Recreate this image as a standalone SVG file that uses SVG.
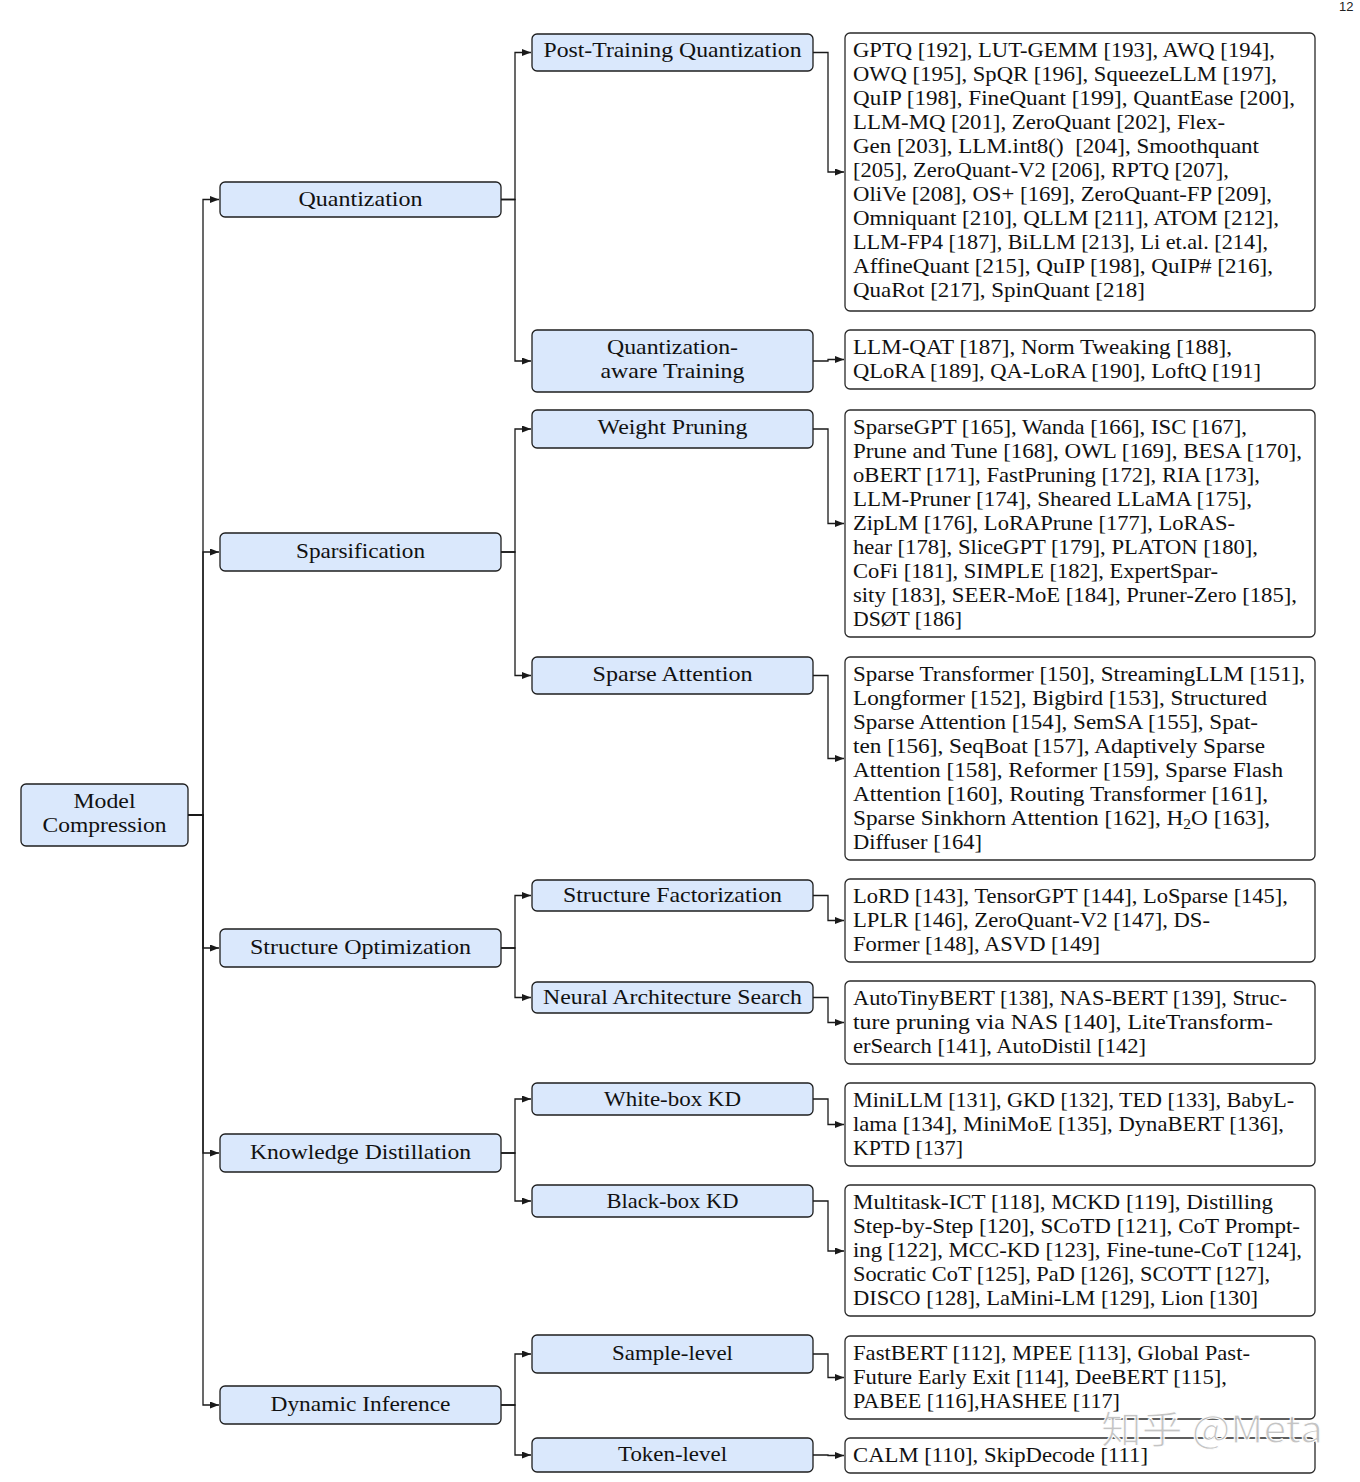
<svg xmlns="http://www.w3.org/2000/svg" width="1360" height="1482" viewBox="0 0 1360 1482">
<style>
.bx{fill:#dae8fc;stroke:#1e1e1e;stroke-width:1.3}
.lf{fill:#ffffff;stroke:#2a2a2a;stroke-width:1.3}
.lb{font-family:"Liberation Serif","DejaVu Serif",serif;font-size:21px;fill:#111;text-anchor:middle}
.tx{font-family:"Liberation Serif","DejaVu Serif",serif;font-size:21px;fill:#111}
.cn{fill:none;stroke:#1a1a1a;stroke-width:1.3;marker-end:url(#ah)}
</style>
<defs>
<marker id="ah" markerUnits="userSpaceOnUse" markerWidth="9" markerHeight="7" refX="9" refY="3.5" orient="auto">
<path d="M0,0 L9,3.5 L0,7 z" fill="#1a1a1a"/>
</marker>
</defs>
<rect width="1360" height="1482" fill="#ffffff"/>
<text x="1339" y="11" font-family="Liberation Sans,sans-serif" font-size="13" fill="#222">12</text>

<g id="connectors">
<path class="cn" d="M188,815 H203 V199.5 H219"/>
<path class="cn" d="M188,815 H203 V552 H219"/>
<path class="cn" d="M188,815 H203 V948 H219"/>
<path class="cn" d="M188,815 H203 V1153 H219"/>
<path class="cn" d="M188,815 H203 V1405 H219"/>
<path class="cn" d="M501,199.5 H515 V52.5 H531"/>
<path class="cn" d="M501,199.5 H515 V361 H531"/>
<path class="cn" d="M501,552 H515 V429 H531"/>
<path class="cn" d="M501,552 H515 V675.5 H531"/>
<path class="cn" d="M501,948 H515 V895.5 H531"/>
<path class="cn" d="M501,948 H515 V997.5 H531"/>
<path class="cn" d="M501,1153 H515 V1099 H531"/>
<path class="cn" d="M501,1153 H515 V1201 H531"/>
<path class="cn" d="M501,1405 H515 V1354 H531"/>
<path class="cn" d="M501,1405 H515 V1455 H531"/>
<path class="cn" d="M813,52.5 H828 V172 H844"/>
<path class="cn" d="M813,361 H828 V359.5 H844"/>
<path class="cn" d="M813,429 H828 V523.5 H844"/>
<path class="cn" d="M813,675.5 H828 V758.5 H844"/>
<path class="cn" d="M813,895.5 H828 V920.5 H844"/>
<path class="cn" d="M813,997.5 H828 V1022.5 H844"/>
<path class="cn" d="M813,1099 H828 V1124.5 H844"/>
<path class="cn" d="M813,1201 H828 V1251 H844"/>
<path class="cn" d="M813,1354 H828 V1377.5 H844"/>
<path class="cn" d="M813,1455 H828 V1455.5 H844"/>
</g>

<g id="root">
<rect class="bx" x="21" y="784" width="167" height="62" rx="5"/>
<text class="lb" x="104.5" y="808" textLength="62" lengthAdjust="spacingAndGlyphs">Model</text>
<text class="lb" x="104.5" y="832" textLength="124" lengthAdjust="spacingAndGlyphs">Compression</text>
</g>

<g id="quantization">
<rect class="bx" x="220" y="182" width="281" height="35" rx="5"/>
<text class="lb" x="360.5" y="206" textLength="124" lengthAdjust="spacingAndGlyphs">Quantization</text>
</g>
<g id="sparsification">
<rect class="bx" x="220" y="533" width="281" height="38" rx="5"/>
<text class="lb" x="360.5" y="558" textLength="129" lengthAdjust="spacingAndGlyphs">Sparsification</text>
</g>
<g id="structure-optimization">
<rect class="bx" x="220" y="929" width="281" height="38" rx="5"/>
<text class="lb" x="360.5" y="954" textLength="221" lengthAdjust="spacingAndGlyphs">Structure Optimization</text>
</g>
<g id="knowledge-distillation">
<rect class="bx" x="220" y="1134" width="281" height="38" rx="5"/>
<text class="lb" x="360.5" y="1159" textLength="221" lengthAdjust="spacingAndGlyphs">Knowledge Distillation</text>
</g>
<g id="dynamic-inference">
<rect class="bx" x="220" y="1386" width="281" height="38" rx="5"/>
<text class="lb" x="360.5" y="1411" textLength="180" lengthAdjust="spacingAndGlyphs">Dynamic Inference</text>
</g>

<g id="ptq">
<rect class="bx" x="532" y="34" width="281" height="37" rx="5"/>
<text class="lb" x="672.5" y="57" textLength="258" lengthAdjust="spacingAndGlyphs">Post-Training Quantization</text>
</g>
<g id="qat">
<rect class="bx" x="532" y="330" width="281" height="62" rx="5"/>
<text class="lb" x="672.5" y="354" textLength="131" lengthAdjust="spacingAndGlyphs">Quantization-</text>
<text class="lb" x="672.5" y="378" textLength="144" lengthAdjust="spacingAndGlyphs">aware Training</text>
</g>
<g id="weight-pruning">
<rect class="bx" x="532" y="410" width="281" height="38" rx="5"/>
<text class="lb" x="672.5" y="434" textLength="150" lengthAdjust="spacingAndGlyphs">Weight Pruning</text>
</g>
<g id="sparse-attention">
<rect class="bx" x="532" y="657" width="281" height="37" rx="5"/>
<text class="lb" x="672.5" y="681" textLength="160" lengthAdjust="spacingAndGlyphs">Sparse Attention</text>
</g>
<g id="structure-factorization">
<rect class="bx" x="532" y="880" width="281" height="31" rx="5"/>
<text class="lb" x="672.5" y="902" textLength="219" lengthAdjust="spacingAndGlyphs">Structure Factorization</text>
</g>
<g id="nas">
<rect class="bx" x="532" y="982" width="281" height="31" rx="5"/>
<text class="lb" x="672.5" y="1004" textLength="259" lengthAdjust="spacingAndGlyphs">Neural Architecture Search</text>
</g>
<g id="white-box-kd">
<rect class="bx" x="532" y="1083" width="281" height="32" rx="5"/>
<text class="lb" x="672.5" y="1106" textLength="137" lengthAdjust="spacingAndGlyphs">White-box KD</text>
</g>
<g id="black-box-kd">
<rect class="bx" x="532" y="1185" width="281" height="32" rx="5"/>
<text class="lb" x="672.5" y="1208" textLength="132" lengthAdjust="spacingAndGlyphs">Black-box KD</text>
</g>
<g id="sample-level">
<rect class="bx" x="532" y="1335" width="281" height="38" rx="5"/>
<text class="lb" x="672.5" y="1360" textLength="121" lengthAdjust="spacingAndGlyphs">Sample-level</text>
</g>
<g id="token-level">
<rect class="bx" x="532" y="1438" width="281" height="34" rx="5"/>
<text class="lb" x="672.5" y="1461" textLength="109" lengthAdjust="spacingAndGlyphs">Token-level</text>
</g>

<g id="leaf-ptq">
<rect class="lf" x="845" y="33" width="470" height="278" rx="5"/>
<text class="tx" x="853" y="57" textLength="422" lengthAdjust="spacingAndGlyphs">GPTQ [192], LUT-GEMM [193], AWQ [194],</text>
<text class="tx" x="853" y="81" textLength="424" lengthAdjust="spacingAndGlyphs">OWQ [195], SpQR [196], SqueezeLLM [197],</text>
<text class="tx" x="853" y="105" textLength="442" lengthAdjust="spacingAndGlyphs">QuIP [198], FineQuant [199], QuantEase [200],</text>
<text class="tx" x="853" y="129" textLength="372" lengthAdjust="spacingAndGlyphs">LLM-MQ [201], ZeroQuant [202], Flex-</text>
<text class="tx" x="853" y="153" textLength="406" lengthAdjust="spacingAndGlyphs">Gen [203], LLM.int8()&#160; [204], Smoothquant</text>
<text class="tx" x="853" y="177" textLength="376" lengthAdjust="spacingAndGlyphs">[205], ZeroQuant-V2 [206], RPTQ [207],</text>
<text class="tx" x="853" y="201" textLength="419" lengthAdjust="spacingAndGlyphs">OliVe [208], OS+ [169], ZeroQuant-FP [209],</text>
<text class="tx" x="853" y="225" textLength="426" lengthAdjust="spacingAndGlyphs">Omniquant [210], QLLM [211], ATOM [212],</text>
<text class="tx" x="853" y="249" textLength="415" lengthAdjust="spacingAndGlyphs">LLM-FP4 [187], BiLLM [213], Li et.al. [214],</text>
<text class="tx" x="853" y="273" textLength="420" lengthAdjust="spacingAndGlyphs">AffineQuant [215], QuIP [198], QuIP# [216],</text>
<text class="tx" x="853" y="297" textLength="292" lengthAdjust="spacingAndGlyphs">QuaRot [217], SpinQuant [218]</text>
</g>
<g id="leaf-qat">
<rect class="lf" x="845" y="330" width="470" height="59" rx="5"/>
<text class="tx" x="853" y="354" textLength="379" lengthAdjust="spacingAndGlyphs">LLM-QAT [187], Norm Tweaking [188],</text>
<text class="tx" x="853" y="378" textLength="408" lengthAdjust="spacingAndGlyphs">QLoRA [189], QA-LoRA [190], LoftQ [191]</text>
</g>
<g id="leaf-weight-pruning">
<rect class="lf" x="845" y="410" width="470" height="227" rx="5"/>
<text class="tx" x="853" y="434" textLength="394" lengthAdjust="spacingAndGlyphs">SparseGPT [165], Wanda [166], ISC [167],</text>
<text class="tx" x="853" y="458" textLength="449" lengthAdjust="spacingAndGlyphs">Prune and Tune [168], OWL [169], BESA [170],</text>
<text class="tx" x="853" y="482" textLength="407" lengthAdjust="spacingAndGlyphs">oBERT [171], FastPruning [172], RIA [173],</text>
<text class="tx" x="853" y="506" textLength="399" lengthAdjust="spacingAndGlyphs">LLM-Pruner [174], Sheared LLaMA [175],</text>
<text class="tx" x="853" y="530" textLength="382" lengthAdjust="spacingAndGlyphs">ZipLM [176], LoRAPrune [177], LoRAS-</text>
<text class="tx" x="853" y="554" textLength="405" lengthAdjust="spacingAndGlyphs">hear [178], SliceGPT [179], PLATON [180],</text>
<text class="tx" x="853" y="578" textLength="365" lengthAdjust="spacingAndGlyphs">CoFi [181], SIMPLE [182], ExpertSpar-</text>
<text class="tx" x="853" y="602" textLength="444" lengthAdjust="spacingAndGlyphs">sity [183], SEER-MoE [184], Pruner-Zero [185],</text>
<text class="tx" x="853" y="626" textLength="109" lengthAdjust="spacingAndGlyphs">DSØT [186]</text>
</g>
<g id="leaf-sparse-attention">
<rect class="lf" x="845" y="657" width="470" height="203" rx="5"/>
<text class="tx" x="853" y="681" textLength="452" lengthAdjust="spacingAndGlyphs">Sparse Transformer [150], StreamingLLM [151],</text>
<text class="tx" x="853" y="705" textLength="414" lengthAdjust="spacingAndGlyphs">Longformer [152], Bigbird [153], Structured</text>
<text class="tx" x="853" y="729" textLength="405" lengthAdjust="spacingAndGlyphs">Sparse Attention [154], SemSA [155], Spat-</text>
<text class="tx" x="853" y="753" textLength="412" lengthAdjust="spacingAndGlyphs">ten [156], SeqBoat [157], Adaptively Sparse</text>
<text class="tx" x="853" y="777" textLength="430" lengthAdjust="spacingAndGlyphs">Attention [158], Reformer [159], Sparse Flash</text>
<text class="tx" x="853" y="801" textLength="415" lengthAdjust="spacingAndGlyphs">Attention [160], Routing Transformer [161],</text>
<text class="tx" x="853" y="825" textLength="417" lengthAdjust="spacingAndGlyphs">Sparse Sinkhorn Attention [162], H<tspan font-size="14" dy="4">2</tspan><tspan dy="-4">O [163],</tspan></text>
<text class="tx" x="853" y="849" textLength="129" lengthAdjust="spacingAndGlyphs">Diffuser [164]</text>
</g>
<g id="leaf-structure-factorization">
<rect class="lf" x="845" y="879" width="470" height="83" rx="5"/>
<text class="tx" x="853" y="903" textLength="435" lengthAdjust="spacingAndGlyphs">LoRD [143], TensorGPT [144], LoSparse [145],</text>
<text class="tx" x="853" y="927" textLength="357" lengthAdjust="spacingAndGlyphs">LPLR [146], ZeroQuant-V2 [147], DS-</text>
<text class="tx" x="853" y="951" textLength="247" lengthAdjust="spacingAndGlyphs">Former [148], ASVD [149]</text>
</g>
<g id="leaf-nas">
<rect class="lf" x="845" y="981" width="470" height="83" rx="5"/>
<text class="tx" x="853" y="1005" textLength="434" lengthAdjust="spacingAndGlyphs">AutoTinyBERT [138], NAS-BERT [139], Struc-</text>
<text class="tx" x="853" y="1029" textLength="420" lengthAdjust="spacingAndGlyphs">ture pruning via NAS [140], LiteTransform-</text>
<text class="tx" x="853" y="1053" textLength="293" lengthAdjust="spacingAndGlyphs">erSearch [141], AutoDistil [142]</text>
</g>
<g id="leaf-white-box-kd">
<rect class="lf" x="845" y="1083" width="470" height="83" rx="5"/>
<text class="tx" x="853" y="1107" textLength="441" lengthAdjust="spacingAndGlyphs">MiniLLM [131], GKD [132], TED [133], BabyL-</text>
<text class="tx" x="853" y="1131" textLength="431" lengthAdjust="spacingAndGlyphs">lama [134], MiniMoE [135], DynaBERT [136],</text>
<text class="tx" x="853" y="1155" textLength="110" lengthAdjust="spacingAndGlyphs">KPTD [137]</text>
</g>
<g id="leaf-black-box-kd">
<rect class="lf" x="845" y="1185" width="470" height="131" rx="5"/>
<text class="tx" x="853" y="1209" textLength="420" lengthAdjust="spacingAndGlyphs">Multitask-ICT [118], MCKD [119], Distilling</text>
<text class="tx" x="853" y="1233" textLength="447" lengthAdjust="spacingAndGlyphs">Step-by-Step [120], SCoTD [121], CoT Prompt-</text>
<text class="tx" x="853" y="1257" textLength="449" lengthAdjust="spacingAndGlyphs">ing [122], MCC-KD [123], Fine-tune-CoT [124],</text>
<text class="tx" x="853" y="1281" textLength="417" lengthAdjust="spacingAndGlyphs">Socratic CoT [125], PaD [126], SCOTT [127],</text>
<text class="tx" x="853" y="1305" textLength="405" lengthAdjust="spacingAndGlyphs">DISCO [128], LaMini-LM [129], Lion [130]</text>
</g>
<g id="leaf-sample-level">
<rect class="lf" x="845" y="1336" width="470" height="83" rx="5"/>
<text class="tx" x="853" y="1360" textLength="397" lengthAdjust="spacingAndGlyphs">FastBERT [112], MPEE [113], Global Past-</text>
<text class="tx" x="853" y="1384" textLength="374" lengthAdjust="spacingAndGlyphs">Future Early Exit [114], DeeBERT [115],</text>
<text class="tx" x="853" y="1408" textLength="267" lengthAdjust="spacingAndGlyphs">PABEE [116],HASHEE [117]</text>
</g>
<g id="leaf-token-level">
<rect class="lf" x="845" y="1438" width="470" height="35" rx="5"/>
<text class="tx" x="853" y="1462" textLength="295" lengthAdjust="spacingAndGlyphs">CALM [110], SkipDecode [111]</text>
</g>

<text x="1101" y="1443" font-family="'Noto Sans CJK SC','Noto Sans',sans-serif" font-size="38" fill="#bcbcbc" fill-opacity="0.9" stroke="#ffffff" stroke-width="1" textLength="222" lengthAdjust="spacingAndGlyphs">知乎 @Meta</text>
</svg>
